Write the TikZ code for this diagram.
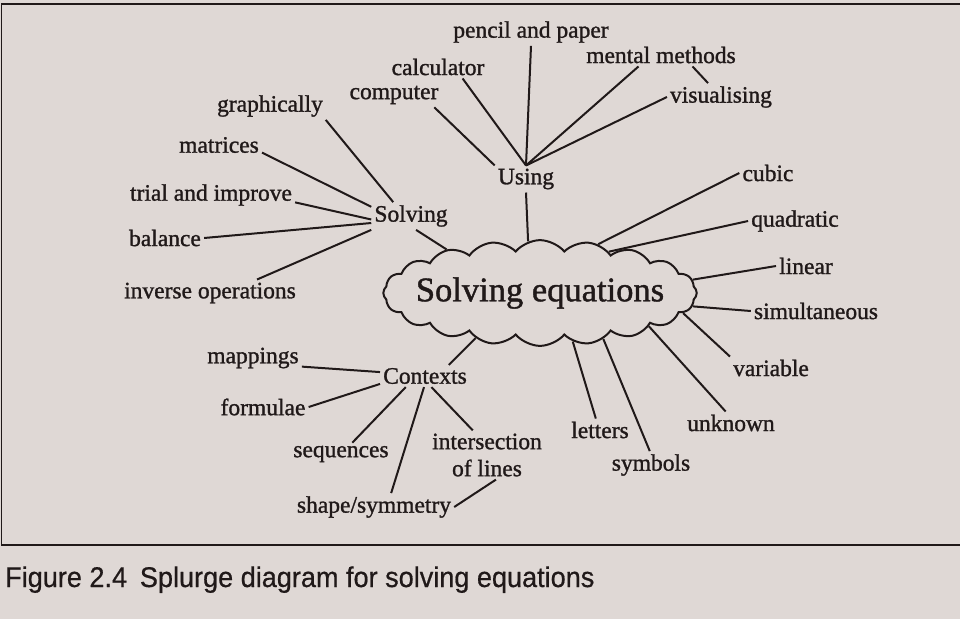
\documentclass[tikz,border=0pt]{standalone}
\usepackage{fontspec}
\setmainfont{Liberation Serif}[FakeBold=1.2]
\newfontfamily\capfont[FakeStretch=0.95,FakeBold=0.6]{Liberation Sans}
\usetikzlibrary{shapes.symbols}
\definecolor{paper}{RGB}{223,216,213}
\definecolor{ink}{RGB}{32,25,25}
\tikzset{
  lbl/.style={text=ink, font=\fontsize{23.5}{27}\selectfont, inner sep=3pt},
  branch/.style={draw=ink, line width=2pt},
}

\begin{document}
\begin{tikzpicture}[x=1pt,y=-1pt]
\fill[paper] (0,0) rectangle (960,619);
\useasboundingbox (0,0) rectangle (960,619);

% Frame round the figure
\draw[ink, line width=1.6pt] (960,4) -- (1.5,4) -- (1.5,545) -- (960,545);

% Central cloud
\node[cloud, draw=ink, line width=2pt, cloud puffs=20, cloud puff arc=100,
  aspect=3.7, inner sep=0pt,
  text=ink, font=\fontsize{34.5}{38}\selectfont] (eq) at (540,293)
  {\makebox[220pt][c]{Solving equations}};

% Hubs
\node[lbl] (using) at (526,179) {Using};
\node[lbl] (solving) at (411,216) {Solving};
\node[lbl] (contexts) at (425,376) {Contexts};

% Leaf labels
\foreach \n/\x/\y/\t in {pencil/531/32/pencil and paper, calc/438/67/calculator,
    mental/661/55/mental methods, visual/721/97/visualising, computer/394/95/computer,
    graph/270/106/graphically, matrices/219/145/matrices, trial/211/195/trial and improve,
    balance/165/238/balance, inverse/210/293/inverse operations,
    cubic/768/173/cubic, quad/795/221/quadratic, linear/806/266/linear,
    simult/816/311/simultaneous, variable/771/368/variable, unknown/731/423/unknown,
    symbols/651/465/symbols, letters/600/430/letters, sequences/341/454/sequences,
    mappings/253/358/mappings, formulae/263/407/formulae} {
    \node[lbl] (\n) at (\x,\y) {\t};
}
\node[lbl] (shape) at (374,507) {shape/symmetry};
\node[lbl, align=center] (inter) at (487,455) {intersection\\of lines};

% Using branch
\foreach \a/\b in {eq.103/using.south, pencil.south/using.north, calc.-25/using.north,
    computer.-17/using.north west, mental.-153/using.north, visual.west/using.north,
    mental.-20/visual.133} {
    \draw[branch] (\a) -- (\b);
}

% Solving branch
\foreach \a/\b in {eq.155/solving.-70, graph.-14/solving.142, matrices.-10/solving.167,
    trial.-5/solving.185, balance.east/solving.190, inverse.16/solving.south west} {
    \draw[branch] (\a) -- (\b);
}

% Contexts branch
\foreach \a/\b in {eq.-145/contexts.25, mappings.-10/contexts.175, formulae.east/contexts.190,
    contexts.-150/sequences.45, contexts.-95/shape.39, contexts.-60/inter.120,
    inter.-70/shape.east} {
    \draw[branch] (\a) -- (\b);
}

% Right-hand branches
\foreach \a/\b in {eq.40/cubic.west, eq.31/quad.west, eq.5/linear.west, eq.-5/simult.west,
    eq.-8/variable.north west, eq.-17/unknown.115, eq.-36/symbols.95, eq.-56/letters.110} {
    \draw[branch] (\a) -- (\b);
}

% Caption
\node[anchor=base west, inner sep=0pt, text=ink, font=\capfont\fontsize{28.5}{32}\selectfont]
  (caption) at (5,587) {Figure 2.4\hspace{0.45em}Splurge diagram for solving equations};
\end{tikzpicture}
\end{document}
